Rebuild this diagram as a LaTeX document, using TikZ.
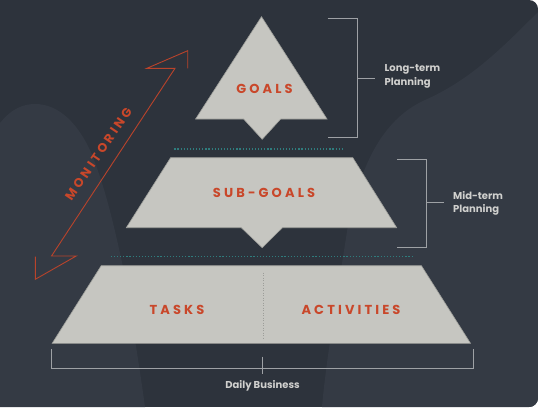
\documentclass[tikz,border=0pt]{standalone}
\usepackage{fontspec}
\setmainfont{Poppins}
\newfontfamily\tierfont[LetterSpace=24]{Poppins}
\definecolor{bgdark}{HTML}{2D333C}
\definecolor{bglight}{HTML}{343A44}
\definecolor{blockgray}{HTML}{C6C6C1}
\definecolor{blockedge}{HTML}{9C9D99}
\definecolor{tierred}{HTML}{C9472A}
\definecolor{monitorred}{HTML}{B9432B}
\definecolor{notegray}{HTML}{D0D0CE}
\definecolor{bracegray}{HTML}{9EA1A5}
\definecolor{levelteal}{HTML}{2F7C7D}
\begin{document}
\begin{tikzpicture}[x=1pt, y=-1pt,
  tier/.style={text=tierred, font=\tierfont\bfseries\fontsize{13}{14}\selectfont},
  note/.style={text=notegray, font=\bfseries\fontsize{10}{13.3}\selectfont, align=left, inner sep=0pt},
  block/.style={fill=blockgray, draw=blockedge, line width=0.6pt},
  brace/.style={draw=bracegray, line width=1pt},
  level/.style={draw=levelteal, line width=1.2pt, dash pattern=on 1.2pt off 1.9pt},
  monitor/.style={draw=monitorred, line width=0.9pt, line join=miter}]
\useasboundingbox (0,0) rectangle (538,407);
\fill[white] (0,0) rectangle (538,407);
\begin{scope}
\clip[rounded corners=9pt] (-20,0) rectangle (538,407);
\fill[bgdark] (-20,0) rectangle (538,407);
\fill[bglight] (538,12) .. controls (500,50) and (470,80) .. (425,100) .. controls (385,118) and (362,160) .. (348,225) .. controls (338,290) and (326,360) .. (322,407) -- (538,407) -- cycle;
\fill[bglight] (0,123) .. controls (12,108) and (24,104) .. (35,104) .. controls (60,104) and (78,125) .. (90,150) .. controls (105,185) and (115,230) .. (123,267) .. controls (132,320) and (140,370) .. (145,407) -- (0,407) -- cycle;
\end{scope}
\draw[block] (261.5,16.7) -- (327,119) -- (280.7,119) -- (262.2,139.3) -- (243.6,119) -- (195.6,119) -- cycle;
\draw[block] (170.6,157.7) -- (352.8,157.7) -- (396.7,227.7) -- (282.4,227.7) -- (262.2,247.7) -- (241.3,227.7) -- (126.3,227.7) -- cycle;
\draw[block] (101.2,265.7) -- (421.4,265.7) -- (470.5,343.3) -- (52.2,343.3) -- cycle;
\draw[draw=blockedge, line width=0.5pt, dash pattern=on 1pt off 1.5pt] (262.9,272.7) -- (262.9,340);
\draw[level] (174.3,149) -- (343.2,149);
\draw[level] (110.8,256.3) -- (413.5,256.3);
\node (goals) at (264.5,89.3) [tier] {GOALS};
\node (subgoals) at (264,193.3) [tier] {SUB-GOALS};
\node (tasks) at (177,310.3) [tier] {TASKS};
\node (activities) at (351,310.3) [tier] {ACTIVITIES};
\draw[monitor] (187.7,68.3) -- (187.7,50.7) -- (146.9,68.3) -- (175,68.3) -- (51.5,256) -- (76.2,256) -- (35.3,279.3) -- (35.3,256.7);
\node (monitoring) at (98.5,154) [tier, rotate=56, font=\tierfont\bfseries\fontsize{12.5}{13}\selectfont] {MONITORING};
\draw[brace] (327.7,18.3) -- (357,18.3) -- (357,137.3) -- (327.7,137.3);
\draw[brace] (357,78.3) -- (374.8,78.3);
\node (longterm) at (384.5,76.5) [note, anchor=west] {Long-term\\Planning};
\draw[brace] (397,159.3) -- (426.6,159.3) -- (426.6,247.3) -- (397,247.3);
\draw[brace] (426.6,202) -- (444.4,202);
\node (midterm) at (453,203.3) [note, anchor=west] {Mid-term\\Planning};
\draw[brace] (51.8,349.3) -- (51.8,368.3) -- (473.6,368.3) -- (473.6,349.3);
\draw[brace] (262.5,356.7) -- (262.5,374);
\node (daily) at (262.5,385.7) [note] {Daily Business};
\end{tikzpicture}
\end{document}
